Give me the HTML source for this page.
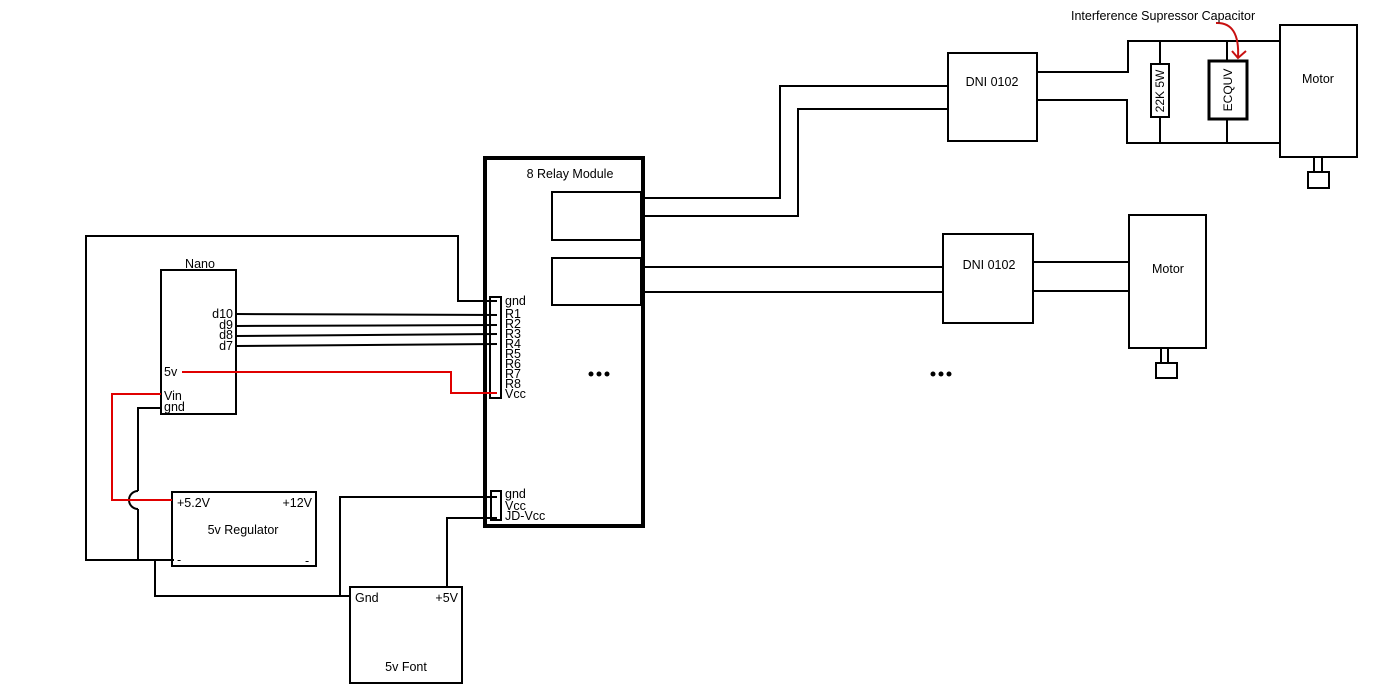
<!DOCTYPE html>
<html><head><meta charset="utf-8"><style>
html,body{margin:0;padding:0;background:#fff;}
svg{display:block;}
text{font-family:"Liberation Sans",sans-serif;fill:#000;}
</style></head><body>
<svg width="1380" height="692" viewBox="0 0 1380 692" xmlns="http://www.w3.org/2000/svg">
<rect width="1380" height="692" fill="#fff"/>
<g fill="none" stroke="#000" stroke-width="2">
<rect x="485" y="158" width="158" height="368" stroke-width="4"/>
<rect x="552" y="192" width="89" height="48"/>
<rect x="552" y="258" width="89" height="47"/>
<rect x="490" y="297" width="11" height="101"/>
<rect x="491" y="491" width="10" height="29"/>
<polyline points="643,198 780,198 780,86 948,86"/>
<polyline points="643,216 798,216 798,109 948,109"/>
<rect x="948" y="53" width="89" height="88"/>
<polyline points="1037,72 1128,72 1128,41 1280,41"/>
<polyline points="1037,100 1127,100 1127,143 1280,143"/>
<line x1="1160" y1="41" x2="1160" y2="64"/>
<line x1="1160" y1="117" x2="1160" y2="143"/>
<rect x="1151" y="64" width="18" height="53"/>
<line x1="1227" y1="41" x2="1227" y2="61"/>
<line x1="1227" y1="119" x2="1227" y2="143"/>
<rect x="1209" y="61" width="38" height="58" stroke-width="3"/>
<rect x="1280" y="25" width="77" height="132"/>
<rect x="1314" y="157" width="8" height="15"/>
<rect x="1308" y="172" width="21" height="16"/>
<line x1="643" y1="267" x2="943" y2="267"/>
<line x1="643" y1="292" x2="943" y2="292"/>
<rect x="943" y="234" width="90" height="89"/>
<line x1="1033" y1="262" x2="1129" y2="262"/>
<line x1="1033" y1="291" x2="1129" y2="291"/>
<rect x="1129" y="215" width="77" height="133"/>
<rect x="1161" y="348" width="7" height="15"/>
<rect x="1156" y="363" width="21" height="15"/>
<rect x="161" y="270" width="75" height="144"/>
<line x1="236" y1="314" x2="497" y2="315"/>
<line x1="236" y1="326" x2="497" y2="325"/>
<line x1="236" y1="336" x2="497" y2="334"/>
<line x1="236" y1="346" x2="497" y2="344"/>
<polyline points="497,301 458,301 458,236 86,236 86,560 174,560"/>
<polyline points="161,408 138,408 138,491"/>
<path d="M138,491 A9,9 0 0 0 138,509"/>
<polyline points="138,509 138,560"/>
<rect x="172" y="492" width="144" height="74"/>
<polyline points="155,560 155,596 350,596"/>
<polyline points="340,596 340,497 497,497"/>
<polyline points="497,518 447,518 447,587"/>
<rect x="350" y="587" width="112" height="96"/>
</g>
<g fill="none" stroke="#e00000" stroke-width="2">
<polyline points="182,372 451,372 451,393 497,393"/>
<polyline points="161,394 112,394 112,500 172,500"/>
</g>
<g fill="none" stroke="#c81010" stroke-width="2">
<path d="M1216,23 Q1240,22 1238,58"/>
<polyline points="1232,51 1238,58 1246,51"/>
</g>
<g font-size="12.5">
<text x="570" y="178" text-anchor="middle">8 Relay Module</text>
<text x="992" y="86" text-anchor="middle">DNI 0102</text>
<text x="989" y="269" text-anchor="middle">DNI 0102</text>
<text x="1318" y="83" text-anchor="middle">Motor</text>
<text x="1168" y="273" text-anchor="middle">Motor</text>
<text x="1071" y="20">Interference Supressor Capacitor</text>
<text transform="translate(1164,91) rotate(-90)" text-anchor="middle" font-size="12">22K 5W</text>
<text transform="translate(1232,90) rotate(-90)" text-anchor="middle" font-size="12">ECQUV</text>
<text x="200" y="268" text-anchor="middle">Nano</text>
<text x="233" y="318" text-anchor="end">d10</text>
<text x="233" y="329" text-anchor="end">d9</text>
<text x="233" y="339" text-anchor="end">d8</text>
<text x="233" y="350" text-anchor="end">d7</text>
<text x="164" y="376">5v</text>
<text x="164" y="400">Vin</text>
<text x="164" y="411">gnd</text>
<text x="505" y="305">gnd</text>
<text x="505" y="318">R1</text>
<text x="505" y="328">R2</text>
<text x="505" y="338">R3</text>
<text x="505" y="348">R4</text>
<text x="505" y="358">R5</text>
<text x="505" y="368">R6</text>
<text x="505" y="378">R7</text>
<text x="505" y="388">R8</text>
<text x="505" y="398">Vcc</text>
<text x="505" y="498">gnd</text>
<text x="505" y="510">Vcc</text>
<text x="505" y="520">JD-Vcc</text>
<text x="177" y="507">+5.2V</text>
<text x="312" y="507" text-anchor="end">+12V</text>
<text x="243" y="534" text-anchor="middle">5v Regulator</text>
<text x="177" y="564">-</text>
<text x="305" y="565">-</text>
<text x="355" y="602">Gnd</text>
<text x="458" y="602" text-anchor="end">+5V</text>
<text x="406" y="671" text-anchor="middle">5v Font</text>
</g>
<g fill="#000">
<circle cx="591" cy="374" r="2.5"/><circle cx="599" cy="374" r="2.5"/><circle cx="607" cy="374" r="2.5"/>
<circle cx="933" cy="374" r="2.5"/><circle cx="941" cy="374" r="2.5"/><circle cx="949" cy="374" r="2.5"/>
</g>
</svg>
</body></html>
